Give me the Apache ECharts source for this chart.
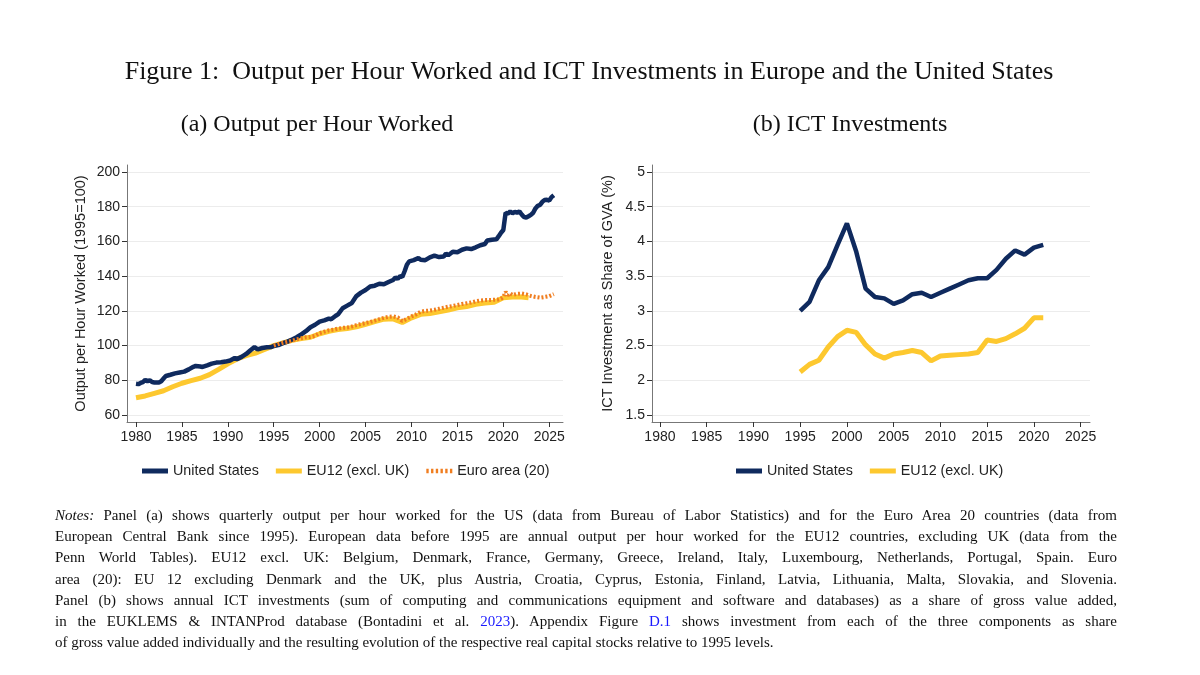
<!DOCTYPE html>
<html><head><meta charset="utf-8">
<script src="https://cdn.jsdelivr.net/npm/echarts@6/dist/echarts.min.js"></script>
<style>
html,body{margin:0;padding:0;background:#fff;}
#chart{position:absolute;left:0;top:0;width:1200px;height:675px;}
#notes{position:absolute;left:55px;top:505px;width:1062px;font-family:"Liberation Serif","Times New Roman",serif;font-size:15px;line-height:21.2px;color:#111;}
#notes div{text-align:justify;text-align-last:justify;white-space:normal;}
#notes div.last{text-align-last:left;}
#notes a{color:#1a1aff;text-decoration:none;}
</style></head>
<body>
<div id="chart"></div>
<div id="notes">
<div><i>Notes:</i> Panel (a) shows quarterly output per hour worked for the US (data from Bureau of Labor Statistics) and for the Euro Area 20 countries (data from</div>
<div>European Central Bank since 1995). European data before 1995 are annual output per hour worked for the EU12 countries, excluding UK (data from the</div>
<div>Penn World Tables). EU12 excl. UK: Belgium, Denmark, France, Germany, Greece, Ireland, Italy, Luxembourg, Netherlands, Portugal, Spain. Euro</div>
<div>area (20): EU 12 excluding Denmark and the UK, plus Austria, Croatia, Cyprus, Estonia, Finland, Latvia, Lithuania, Malta, Slovakia, and Slovenia.</div>
<div>Panel (b) shows annual ICT investments (sum of computing and communications equipment and software and databases) as a share of gross value added,</div>
<div>in the EUKLEMS &amp; INTANProd database (Bontadini et al. <a>2023</a>). Appendix Figure <a>D.1</a> shows investment from each of the three components as share</div>
<div class="last">of gross value added individually and the resulting evolution of the respective real capital stocks relative to 1995 levels.</div>
</div>
<script>
// ---- Data ----
const xTicks = [1980,1985,1990,1995,2000,2005,2010,2015,2020,2025];
const yTicksA = [60,80,100,120,140,160,180,200];
const yTicksB = [1.5,2,2.5,3,3.5,4,4.5,5];

const usOutput = [[1980.0,78],[1980.25,77.8],[1980.5,78.5],[1980.75,79],[1981.0,80.2],[1981.25,79.5],[1981.5,80],[1981.75,79],[1982.0,78.8],[1982.5,78.8],[1982.75,79.5],[1983.0,81],[1983.25,82.5],[1983.75,83.2],[1984.25,84],[1984.75,84.5],[1985.25,85],[1985.75,86.3],[1986.25,87.8],[1986.5,88.3],[1987.0,88],[1987.25,87.7],[1987.75,88.6],[1988.25,89.6],[1988.75,90.2],[1989.25,90.4],[1989.75,90.8],[1990.25,91.4],[1990.75,92.8],[1991.0,92.2],[1991.5,93.5],[1992.0,95.2],[1992.5,97.5],[1992.9,99.1],[1993.25,97.8],[1993.75,98.6],[1994.25,99],[1994.75,99.2],[1995.0,99.8],[1995.5,100.3],[1996.0,101.4],[1996.5,102.3],[1997.0,103.5],[1997.5,104.8],[1998.0,106.5],[1998.5,108.3],[1999.0,110.6],[1999.5,112],[2000.0,113.8],[2000.5,114.5],[2001.0,115.5],[2001.25,115.2],[2001.75,117.2],[2002.0,118],[2002.5,121.5],[2003.0,123],[2003.5,124.5],[2004.0,128.5],[2004.5,130.5],[2005.0,132],[2005.5,134],[2006.0,134.5],[2006.5,135.6],[2007.0,135.3],[2007.5,136.6],[2008.0,137.8],[2008.25,139.2],[2008.5,138.4],[2008.75,140],[2009.0,139.5],[2009.25,142.8],[2009.5,146.5],[2009.75,148.5],[2010.25,149.2],[2010.75,150.4],[2011.0,149.4],[2011.5,149.2],[2012.0,150.8],[2012.5,151.8],[2013.0,151],[2013.5,151.3],[2013.75,153],[2014.0,152],[2014.5,154],[2015.0,153.8],[2015.5,155.2],[2016.0,156],[2016.5,155.6],[2017.0,156.6],[2017.5,157.8],[2018.0,158.5],[2018.25,160.5],[2018.75,161],[2019.25,161.2],[2019.5,163],[2019.75,165],[2020.0,166.6],[2020.1,167],[2020.25,176.5],[2020.5,176],[2020.75,177.2],[2021.0,176.2],[2021.25,177],[2021.5,176.5],[2021.75,177.3],[2022.0,175.5],[2022.25,174],[2022.5,173.8],[2022.75,174.5],[2023.0,175.3],[2023.25,176.5],[2023.5,179],[2023.75,180.5],[2024.0,181],[2024.25,182.8],[2024.5,183.8],[2024.75,184],[2025.0,183.5],[2025.25,185.5],[2025.5,186.6]];

const eu12Output = [[1980,70],[1981,71],[1982,72.5],[1983,74],[1984,76.3],[1985,78.3],[1986,79.8],[1987,81.2],[1988,83.3],[1989,86.3],[1990,89.5],[1991,92.3],[1992,94.2],[1993,95.7],[1994,97.8],[1995,100],[1996,101.6],[1997,103],[1998,104],[1999,104.8],[2000,106.8],[2001,108.2],[2002,109.2],[2003,109.8],[2004,110.8],[2005,112.3],[2006,113.8],[2007,115.2],[2008,115.4],[2009,113.3],[2010,116],[2011,118],[2012,118.5],[2013,119.5],[2014,120.5],[2015,121.8],[2016,122.5],[2017,123.8],[2018,124.5],[2019,125],[2020,127.5],[2021,128],[2022,128],[2022.75,127.5]];

const ea20Output = [[1995.0,100],[1995.5,100.8],[1996.0,101.6],[1996.5,102.2],[1997.0,102.8],[1997.5,103.6],[1998.0,104.2],[1998.5,104.8],[1999.0,105],[1999.5,105.6],[2000.0,107.2],[2000.5,108],[2001.0,108.8],[2001.5,109.2],[2002.0,109.8],[2002.5,110.2],[2003.0,110.4],[2003.5,111],[2004.0,111.8],[2004.5,112.4],[2005.0,113],[2005.5,113.6],[2006.0,114.4],[2006.5,115.2],[2007.0,116],[2007.5,116.6],[2008.0,116.8],[2008.5,116.2],[2009.0,114.2],[2009.5,115.4],[2010.0,116.8],[2010.5,118],[2011.0,119.5],[2011.5,120],[2012.0,120.2],[2012.5,120.6],[2013.0,121.2],[2013.5,121.8],[2014.0,122.4],[2014.5,122.8],[2015.0,123.4],[2015.5,124],[2016.0,124.4],[2016.5,124.8],[2017.0,125.5],[2017.5,126],[2018.0,126.2],[2018.5,126.2],[2019.0,126.4],[2019.5,126.6],[2019.75,127],[2020.0,128],[2020.25,131],[2020.5,129],[2020.75,130],[2021.0,129.2],[2021.5,129.8],[2022.0,130],[2022.5,129.5],[2023.0,128.6],[2023.5,128],[2024.0,127.6],[2024.5,128],[2025.0,128.5],[2025.5,129.6]];

const ictYears = [1995,1996,1997,1998,1999,2000,2001,2002,2003,2004,2005,2006,2007,2008,2009,2010,2011,2012,2013,2014,2015,2016,2017,2018,2019,2020,2021];
const usICT = [3.0,3.13,3.44,3.63,3.95,4.26,3.85,3.32,3.2,3.18,3.1,3.15,3.24,3.26,3.2,3.26,3.32,3.38,3.44,3.47,3.47,3.59,3.75,3.87,3.81,3.91,3.95];
const eu12ICT = [2.12,2.23,2.29,2.48,2.63,2.72,2.69,2.51,2.38,2.32,2.38,2.4,2.43,2.4,2.28,2.35,2.36,2.37,2.38,2.4,2.58,2.56,2.6,2.67,2.75,2.9,2.9];

const NAVY = '#0f2a5e', GOLD = '#fdc82f', ORANGE = '#f07d1f';
const SANS = '"Liberation Sans", Arial, sans-serif';
const labelFont = {fontFamily:SANS, fontSize:14, color:'#222'};
const nameFont = {fontFamily:SANS, fontSize:14.5, color:'#222'};
const legendFont = {fontFamily:SANS, fontSize:14.3, color:'#222'};
const DOTS = 'path://M0,0h1v2h-1z M2,0h1v2h-1z M4,0h1v2h-1z M6,0h1v2h-1z M8,0h1v2h-1z M10,0h1v2h-1z';

function xAxis(gi, min, max){
  return {type:'value', gridIndex:gi, min:min, max:max,
    axisLine:{show:true, lineStyle:{color:'#777', width:1}},
    axisTick:{show:true, length:5, customValues:xTicks, lineStyle:{color:'#333'}},
    axisLabel:Object.assign({customValues:xTicks, margin:8, formatter:v=>String(v)}, labelFont),
    splitLine:{show:false}};
}
function yAxis(gi, min, max, ticks, name, gap){
  return {type:'value', gridIndex:gi, min:min, max:max, name:name, nameLocation:'middle', nameGap:gap,
    nameTextStyle:nameFont,
    axisLine:{show:true, lineStyle:{color:'#777', width:1}},
    axisTick:{show:true, length:5, customValues:ticks, lineStyle:{color:'#333'}},
    axisLabel:Object.assign({customValues:ticks, margin:7, formatter:v=>String(v)}, labelFont),
    splitLine:{show:true, lineStyle:{color:'#ececec', width:1}}};
}

const chart = echarts.init(document.getElementById('chart'), null, {renderer:'canvas'});
chart.setOption({
  animation:false,
  backgroundColor:'#fff',
  title:[
    {text:'Figure 1:  Output per Hour Worked and ICT Investments in Europe and the United States', left:584, top:54, textAlign:'center',
      textStyle:{fontFamily:'"Liberation Serif","Times New Roman",serif', fontSize:26, fontWeight:'normal', color:'#111'}},
    {text:'(a) Output per Hour Worked', left:312, top:108, textAlign:'center',
      textStyle:{fontFamily:'"Liberation Serif","Times New Roman",serif', fontSize:24, fontWeight:'normal', color:'#111'}},
    {text:'(b) ICT Investments', left:845, top:108, textAlign:'center',
      textStyle:{fontFamily:'"Liberation Serif","Times New Roman",serif', fontSize:24, fontWeight:'normal', color:'#111'}}
  ],
  legend:[
    {data:[{name:'United States', icon:'rect'},{name:'EU12 (excl. UK)', icon:'rect'},{name:'Euro area (20)', icon:DOTS}],
      left:137, top:459, itemWidth:26, itemHeight:5, itemGap:17, textStyle:legendFont},
    {data:[{name:'United States', icon:'rect'},{name:'EU12 (excl. UK)', icon:'rect'}],
      left:731, top:459, itemWidth:26, itemHeight:5, itemGap:17, textStyle:legendFont}
  ],
  grid:[
    {left:127, top:165, width:436, height:257},
    {left:652, top:165, width:438, height:257}
  ],
  xAxis:[xAxis(0,1979.02,2026.5), xAxis(1,1979.15,2026)],
  yAxis:[yAxis(0,56,204,yTicksA,'Output per Hour Worked (1995=100)',39), yAxis(1,1.4,5.1,yTicksB,'ICT Investment as Share of GVA (%)',37)],
  series:[
    {name:'United States', type:'line', xAxisIndex:0, yAxisIndex:0, data:usOutput, symbol:'none', lineStyle:{color:NAVY, width:4.5}, itemStyle:{color:NAVY}, z:3},
    {name:'EU12 (excl. UK)', type:'line', xAxisIndex:0, yAxisIndex:0, data:eu12Output, symbol:'none', lineStyle:{color:GOLD, width:5}, itemStyle:{color:GOLD}, z:2},
    {name:'Euro area (20)', type:'line', xAxisIndex:0, yAxisIndex:0, data:ea20Output, symbol:'none', lineStyle:{color:ORANGE, width:4, type:[2,2]}, itemStyle:{color:ORANGE}, z:4},
    {name:'United States', type:'line', xAxisIndex:1, yAxisIndex:1, data:ictYears.map((y,i)=>[y,usICT[i]]), symbol:'none', lineStyle:{color:NAVY, width:4.5}, itemStyle:{color:NAVY}},
    {name:'EU12 (excl. UK)', type:'line', xAxisIndex:1, yAxisIndex:1, data:ictYears.map((y,i)=>[y,eu12ICT[i]]), symbol:'none', lineStyle:{color:GOLD, width:5}, itemStyle:{color:GOLD}}
  ]
});
</script>
</body></html>
